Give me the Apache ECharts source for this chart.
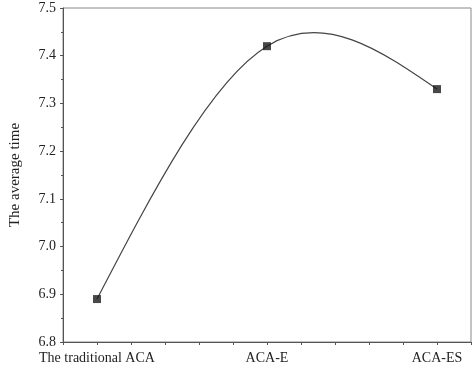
<!DOCTYPE html>
<html>
<head>
<meta charset="utf-8">
<script src="https://cdn.jsdelivr.net/npm/echarts@6/dist/echarts.min.js"></script>
<style>
html,body{margin:0;padding:0;background:#fff;}
#main{width:474px;height:370px;}
</style>
</head>
<body>
<div id="main"></div>
<script>
var categories = ['The traditional ACA', 'ACA-E', 'ACA-ES'];
var avgTime = [6.89, 7.42, 7.33];
var yTicks = [6.8, 6.9, 7.0, 7.1, 7.2, 7.3, 7.4, 7.5];

var points = [];
for (var i = 0; i < avgTime.length; i++) {
	points.push([i, avgTime[i]]);
}

// natural cubic spline (like Origin's "Spline" connector): second derivatives
var splineM = function (pts) {
	var n = pts.length, M = [], a = [], b = [], c = [], d = [];
	for (var k = 0; k < n; k++) M.push(0);
	if (n < 3) return M;
	for (var k = 1; k < n - 1; k++) {
		var h0 = pts[k][0] - pts[k - 1][0], h1 = pts[k + 1][0] - pts[k][0];
		a.push(h0); b.push(2 * (h0 + h1)); c.push(h1);
		d.push(6 * ((pts[k + 1][1] - pts[k][1]) / h1 - (pts[k][1] - pts[k - 1][1]) / h0));
	}
	var m = b.length;
	for (var k = 1; k < m; k++) {
		var w = a[k] / b[k - 1];
		b[k] -= w * c[k - 1];
		d[k] -= w * d[k - 1];
	}
	var x = [];
	x[m - 1] = d[m - 1] / b[m - 1];
	for (var k = m - 2; k >= 0; k--) x[k] = (d[k] - c[k] * x[k + 1]) / b[k];
	for (var k = 0; k < m; k++) M[k + 1] = x[k];
	return M;
};
var M = splineM(points);

var renderSpline = function (params, api) {
	var i = params.dataIndex;
	if (i >= points.length - 1) return null;
	var p0 = points[i], p1 = points[i + 1];
	var h = p1[0] - p0[0];
	var s = (p1[1] - p0[1]) / h;
	var d0 = s - h * (2 * M[i] + M[i + 1]) / 6;
	var d1 = s + h * (M[i] + 2 * M[i + 1]) / 6;
	var a = api.coord(p0);
	var b = api.coord(p1);
	var c1 = api.coord([p0[0] + h / 3, p0[1] + d0 * h / 3]);
	var c2 = api.coord([p1[0] - h / 3, p1[1] - d1 * h / 3]);
	return {
		type: 'bezierCurve',
		shape: {x1: a[0], y1: a[1], x2: b[0], y2: b[1], cpx1: c1[0], cpy1: c1[1], cpx2: c2[0], cpy2: c2[1]},
		style: {stroke: '#444', lineWidth: 1.2, fill: null}
	};
};

var font = 'Liberation Serif';
var chart = echarts.init(document.getElementById('main'));
chart.setOption({
	animation: false,
	grid: {
		left: 57, right: 1, top: 8, bottom: 28,
		show: true, borderColor: '#888', borderWidth: 1
	},
	xAxis: {
		type: 'value',
		min: -0.2,
		max: 2.2,
		interval: 0.2,
		axisLine: {onZero: false, lineStyle: {color: '#555'}},
		axisTick: {show: true, length: 3, lineStyle: {color: '#555'}},
		splitLine: {show: false},
		axisLabel: {
			color: '#222', fontFamily: font, fontSize: 14, margin: 9,
			showMinLabel: true, showMaxLabel: true,
			formatter: function (v) {
				var r = Math.round(v);
				if (Math.abs(v - r) < 1e-6 && r >= 0 && r < categories.length) return categories[r];
				return '';
			}
		}
	},
	yAxis: {
		type: 'value',
		min: yTicks[0],
		max: yTicks[yTicks.length - 1],
		interval: 0.1,
		name: 'The average time',
		nameLocation: 'middle',
		nameGap: 40,
		nameTextStyle: {color: '#222', fontFamily: font, fontSize: 15},
		axisLine: {show: true, onZero: false, lineStyle: {color: '#555'}},
		axisTick: {show: true, length: 3, lineStyle: {color: '#555'}},
		minorTick: {show: true, splitNumber: 2, length: 2, lineStyle: {color: '#555'}},
		splitLine: {show: false},
		axisLabel: {
			color: '#222', fontFamily: font, fontSize: 14, margin: 7,
			formatter: function (v) { return v.toFixed(1); }
		}
	},
	series: [{
		type: 'custom',
		data: points,
		renderItem: renderSpline,
		z: 2
	}, {
		type: 'scatter',
		data: points,
		symbol: 'rect',
		symbolSize: 8,
		itemStyle: {color: '#1a1a1a'},
		z: 3
	}]
});
</script>
</body>
</html>
